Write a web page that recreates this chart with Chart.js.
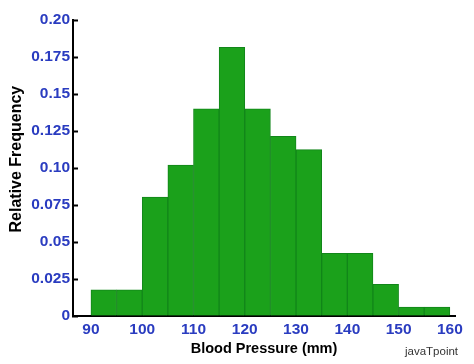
<!DOCTYPE html>
<html>
<head>
<meta charset="utf-8">
<script src="https://cdn.jsdelivr.net/npm/chart.js@4.4.1/dist/chart.umd.min.js"></script>
<style>
  html, body { margin: 0; padding: 0; background: #ffffff; }
  #wrap { position: relative; width: 474px; height: 364px; }
  #wm { position: absolute; left: 405px; top: 345px; font: 11.5px "Liberation Sans", Arial, sans-serif; color: #333; }
</style>
</head>
<body>
<div id="wrap">
  <canvas id="c" width="474" height="364"></canvas>
  <div id="wm">javaTpoint</div>
</div>
<script>
// Bin lower edges (mm) and relative frequencies
const binStarts = [90, 95, 100, 105, 110, 115, 120, 125, 130, 135, 140, 145, 150, 155];
const binWidth = 5;
const relFreq = [0.0176, 0.0176, 0.0803, 0.102, 0.140, 0.1816, 0.140, 0.1214, 0.1124, 0.0424, 0.0424, 0.0214, 0.0061, 0.0061];
const xTickValues = [90, 100, 110, 120, 130, 140, 150, 160];
const yTickValues = [0, 0.025, 0.05, 0.075, 0.10, 0.125, 0.15, 0.175, 0.20];
const yTickLabels = ['0', '0.025', '0.05', '0.075', '0.10', '0.125', '0.15', '0.175', '0.20'];

const tickBlue = '#2a3cc0';
const tickFont = { family: '"Liberation Sans", Arial, sans-serif', size: 15.5, weight: 'bold' };

const points = binStarts.map((s, i) => ({ x: s + binWidth / 2, y: relFreq[i] }));

new Chart(document.getElementById('c'), {
  type: 'bar',
  data: {
    datasets: [{
      data: points,
      backgroundColor: '#1ba11b',
      borderColor: '#12861a',
      borderWidth: 1,
      barPercentage: 1,
      categoryPercentage: 1
    }]
  },
  options: {
    responsive: false,
    animation: false,
    layout: { padding: { left: 0, right: 19, top: 20, bottom: 0 } },
    plugins: { legend: { display: false }, tooltip: { enabled: false } },
    scales: {
      x: {
        type: 'linear',
        offset: false,
        min: 86.5,
        max: 161,
        grid: { display: false, drawTicks: false, offset: false },
        border: { display: true, color: '#000', width: 2 },
        ticks: {
          color: tickBlue, font: tickFont, padding: 4, maxRotation: 0, autoSkip: false,
          callback: (v) => String(v)
        },
        afterBuildTicks: (s) => { s.ticks = xTickValues.map(v => ({ value: v })); },
        title: {
          display: true, text: 'Blood Pressure (mm)', color: '#000',
          font: { family: '"Liberation Sans", Arial, sans-serif', size: 14.5, weight: 'bold' },
          padding: { top: 2, bottom: 6 }
        },
        afterFit: (s) => { s.height = 48; }
      },
      y: {
        min: 0,
        max: 0.2,
        grid: { display: true, drawOnChartArea: false, drawTicks: true, tickLength: -5, tickColor: '#000', tickWidth: 2 },
        border: { display: true, color: '#000', width: 2 },
        ticks: {
          color: tickBlue, font: tickFont, padding: 8, autoSkip: false,
          callback: (v) => { const i = yTickValues.findIndex(t => Math.abs(t - v) < 1e-9); return i >= 0 ? yTickLabels[i] : ''; }
        },
        afterBuildTicks: (s) => { s.ticks = yTickValues.map(v => ({ value: v })); },
        title: {
          display: true, text: '    Relative Frequency', color: '#000',
          font: { family: '"Liberation Sans", Arial, sans-serif', size: 16, weight: 'bold' },
          padding: { top: 7, bottom: 0 }
        },
        afterFit: (s) => { s.width = 73; }
      }
    }
  }
});
</script>
</body>
</html>
